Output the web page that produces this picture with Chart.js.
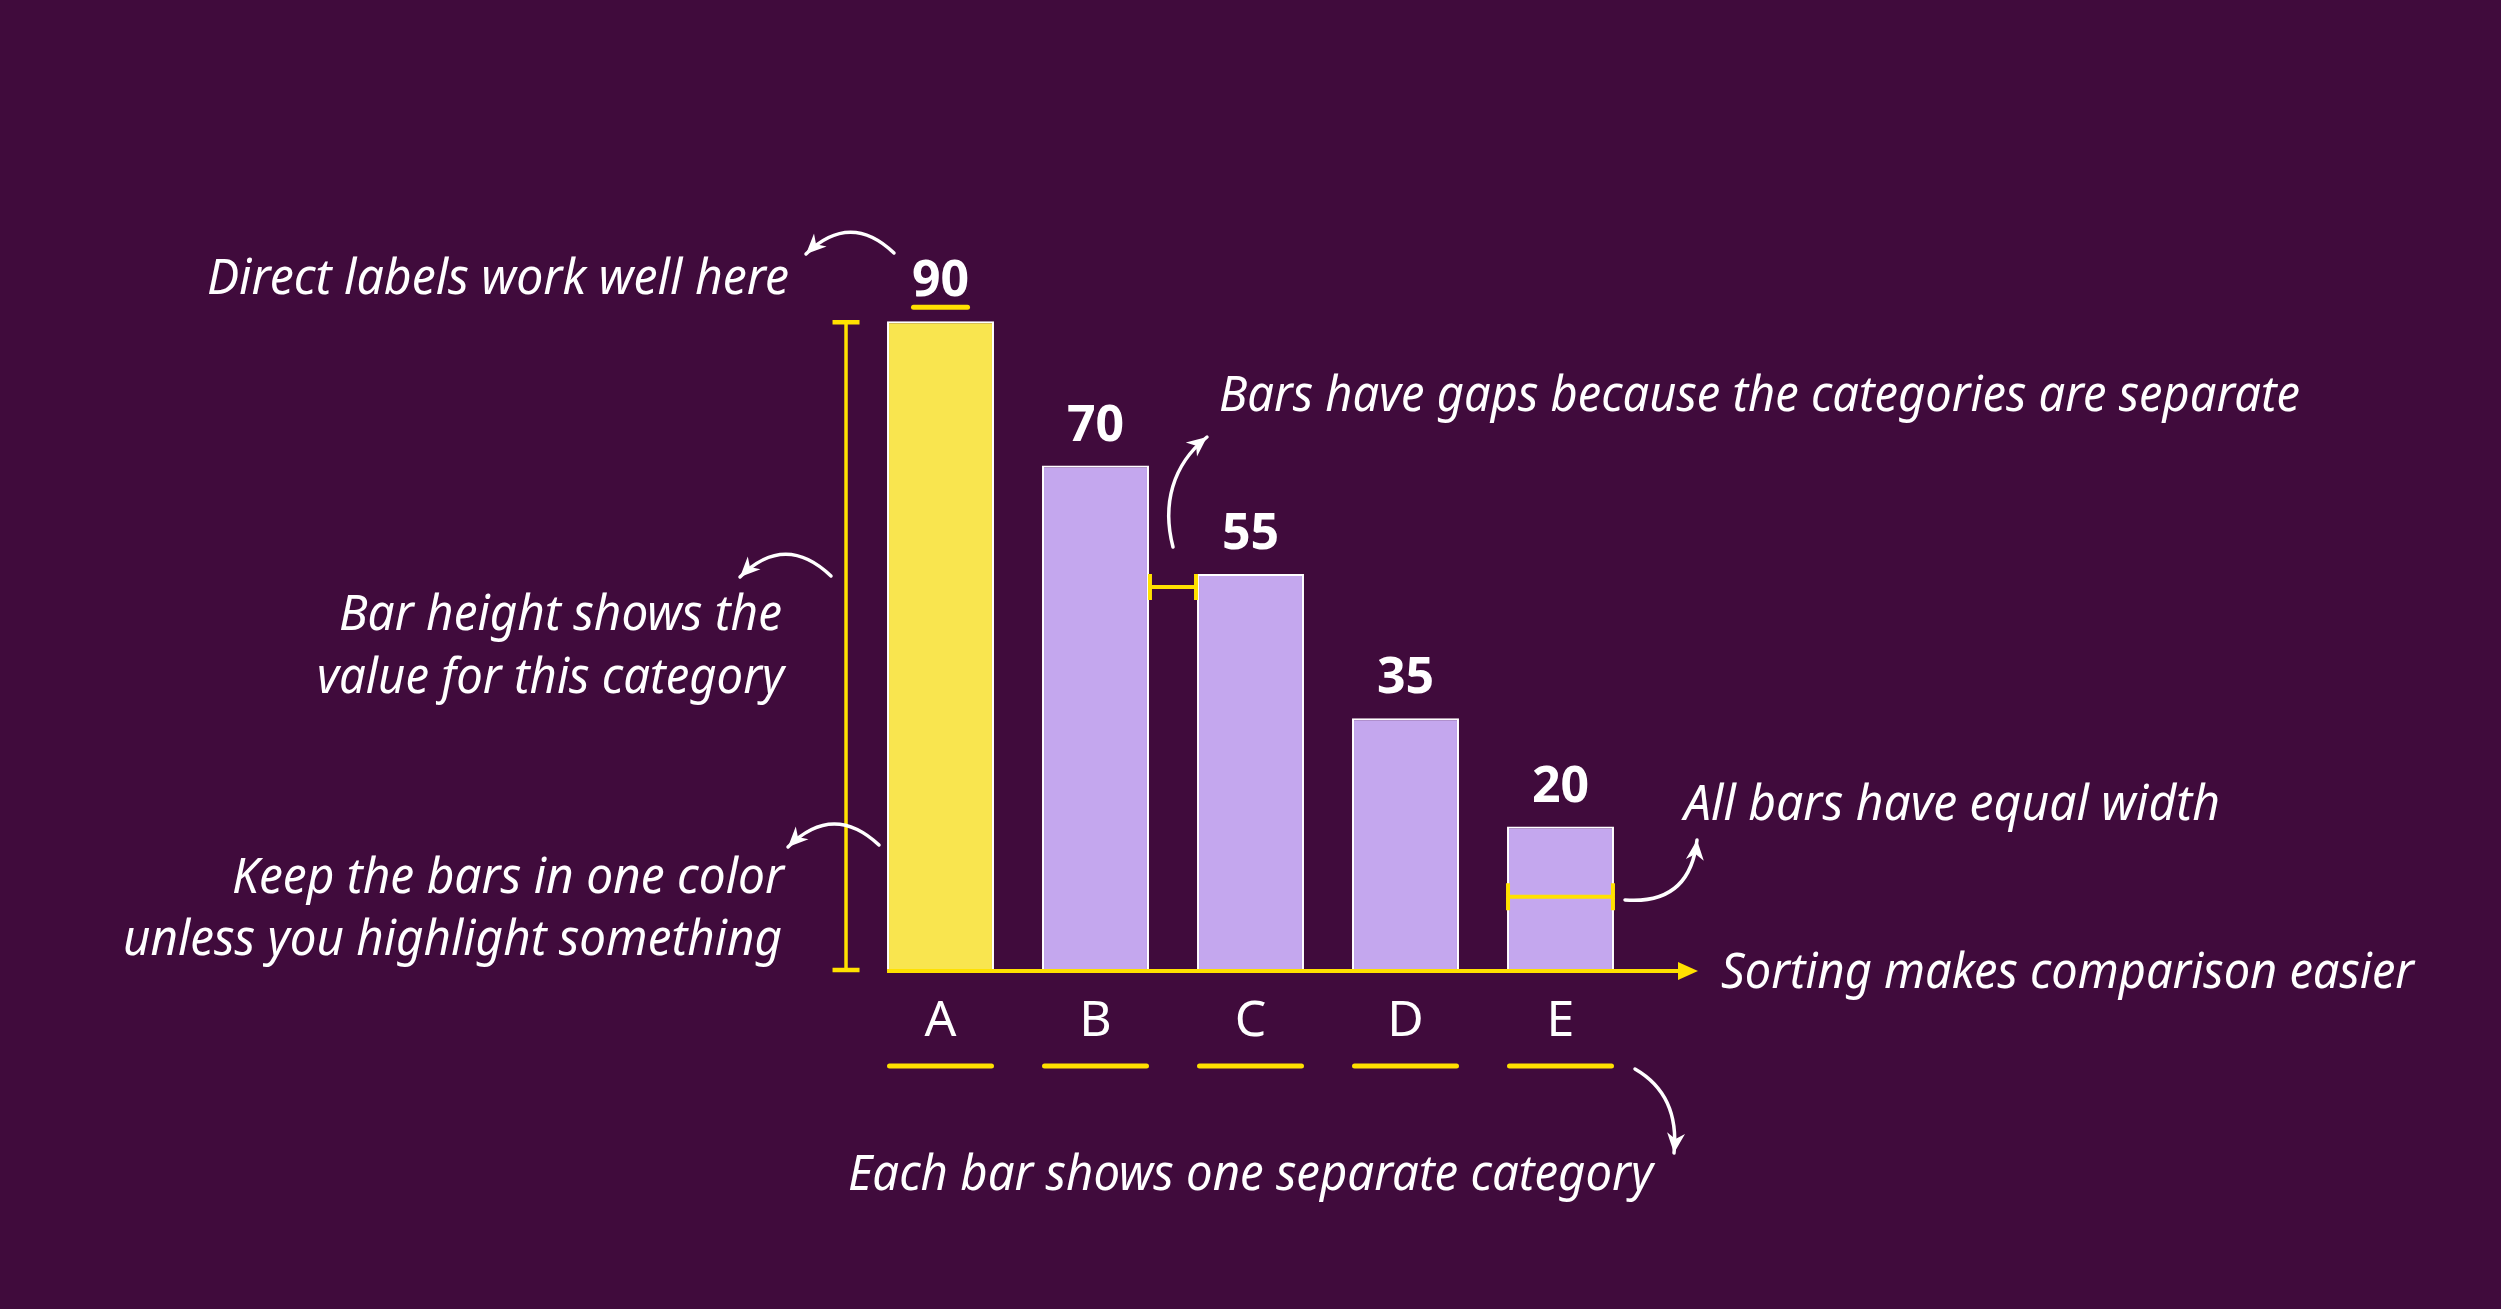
<!DOCTYPE html>
<html>
<head>
<meta charset="utf-8">
<script src="https://cdn.jsdelivr.net/npm/chart.js@4.4.1/dist/chart.umd.min.js"></script>
<style>
  html, body { margin: 0; padding: 0; background: #400b3c; overflow: hidden; }
  canvas { display: block; }
</style>
</head>
<body>
<canvas id="chart" width="2501" height="1309"></canvas>
<script>
// chart data
const categories = ['A', 'B', 'C', 'D', 'E'];
const values = [90, 70, 55, 35, 20];
const highlighted = 'A';

// annotation texts
const noteDirect = 'Direct labels work well here';
const noteHeight = ['Bar height shows the', 'value for this category'];
const noteColor = ['Keep the bars in one color', 'unless you highlight something'];
const noteGaps = 'Bars have gaps because the categories are separate';
const noteWidth = 'All bars have equal width';
const noteSort = 'Sorting makes comparison easier';
const noteCategory = 'Each bar shows one separate category';

const BG = '#400b3c';
const YELLOW_BAR = '#f9e54f';
const LAVENDER = '#c4a7ee';
const YELLOW = '#ffe100';
const FONT = '"Noto Sans", "Open Sans", sans-serif';

// draws text squeezed to a given width (reference font is narrower)
function fitText(ctx, text, x, y, width, align) {
  ctx.font = 'italic 400 50px ' + FONT;
  const w = ctx.measureText(text).width;
  let s = width / w;
  s = Math.max(0.7, Math.min(1.3, s));
  ctx.save();
  ctx.translate(x, y);
  ctx.scale(s, 1);
  ctx.textAlign = align;
  ctx.textBaseline = 'alphabetic';
  ctx.fillStyle = '#ffffff';
  ctx.fillText(text, 0, 0);
  ctx.restore();
}

function arrowHead(ctx, tx, ty, fromX, fromY) {
  const a = Math.atan2(ty - fromY, tx - fromX);
  const len = 20, hw = 9;
  ctx.beginPath();
  ctx.moveTo(tx, ty);
  ctx.lineTo(tx - len * Math.cos(a) + hw * Math.sin(a), ty - len * Math.sin(a) - hw * Math.cos(a));
  ctx.lineTo(tx - len * Math.cos(a) * 0.7, ty - len * Math.sin(a) * 0.7);
  ctx.lineTo(tx - len * Math.cos(a) - hw * Math.sin(a), ty - len * Math.sin(a) + hw * Math.cos(a));
  ctx.closePath();
  ctx.fill();
}

function quadArrow(ctx, x0, y0, cx, cy, x1, y1) {
  ctx.beginPath();
  ctx.moveTo(x0, y0);
  ctx.quadraticCurveTo(cx, cy, x1, y1);
  ctx.stroke();
  arrowHead(ctx, x1, y1, cx, cy);
}

function cubicArrow(ctx, x0, y0, c1x, c1y, c2x, c2y, x1, y1) {
  ctx.beginPath();
  ctx.moveTo(x0, y0);
  ctx.bezierCurveTo(c1x, c1y, c2x, c2y, x1, y1);
  ctx.stroke();
  arrowHead(ctx, x1, y1, c2x, c2y);
}

function bracketH(ctx, x0, x1, y, cap) {
  ctx.beginPath();
  ctx.moveTo(x0, y); ctx.lineTo(x1, y);
  ctx.moveTo(x0, y - cap); ctx.lineTo(x0, y + cap);
  ctx.moveTo(x1, y - cap); ctx.lineTo(x1, y + cap);
  ctx.stroke();
}

const annotate = {
  id: 'annotate',
  beforeDraw(chart) {
    const ctx = chart.ctx;
    ctx.save();
    ctx.fillStyle = BG;
    ctx.fillRect(0, 0, chart.width, chart.height);
    ctx.restore();
  },
  afterDatasetsDraw(chart) {
    const ctx = chart.ctx;
    const yScale = chart.scales.y;
    const bars = chart.getDatasetMeta(0).data;
    const half = bars[0].width / 2;
    const base = yScale.getPixelForValue(0);
    const last = bars[bars.length - 1];
    ctx.save();
    ctx.lineCap = 'butt';

    // x axis with arrow
    ctx.strokeStyle = YELLOW;
    ctx.fillStyle = YELLOW;
    ctx.lineWidth = 4;
    const axisStart = bars[0].x - half;
    const axisTip = last.x + half + 84;
    ctx.beginPath();
    ctx.moveTo(axisStart, base);
    ctx.lineTo(axisTip - 10, base);
    ctx.stroke();
    ctx.beginPath();
    ctx.moveTo(axisTip, base);
    ctx.lineTo(axisTip - 20, base - 9);
    ctx.lineTo(axisTip - 20, base + 9);
    ctx.closePath();
    ctx.fill();

    // value bracket for the tallest bar
    const vx = bars[0].x - half - 41;
    const vTop = yScale.getPixelForValue(values[0]);
    ctx.lineWidth = 3.5;
    ctx.beginPath();
    ctx.moveTo(vx, vTop); ctx.lineTo(vx, base);
    ctx.stroke();
    ctx.lineWidth = 4.5;
    ctx.beginPath();
    ctx.moveTo(vx - 13.5, vTop + 1); ctx.lineTo(vx + 13.5, vTop + 1);
    ctx.moveTo(vx - 13.5, base - 1); ctx.lineTo(vx + 13.5, base - 1);
    ctx.stroke();

    // gap bracket between B and C
    ctx.lineWidth = 4;
    bracketH(ctx, bars[1].x + half + 1, bars[2].x - half - 1, bars[2].y + 13, 13);

    // width bracket inside E
    bracketH(ctx, last.x - half + 1, last.x + half - 1, (last.y + base) / 2 - 2, 13.5);

    // category labels and underlines
    ctx.textAlign = 'center';
    ctx.textBaseline = 'alphabetic';
    ctx.fillStyle = '#ffffff';
    ctx.font = '400 50px ' + FONT;
    ctx.lineCap = 'round';
    ctx.lineWidth = 5;
    ctx.strokeStyle = YELLOW;
    bars.forEach((bar, i) => {
      ctx.fillText(categories[i], bar.x, base + 65);
      ctx.beginPath();
      ctx.moveTo(bar.x - half + 2.5, base + 95);
      ctx.lineTo(bar.x + half - 2.5, base + 95);
      ctx.stroke();
    });

    // value labels
    ctx.font = '700 50px ' + FONT;
    bars.forEach((bar, i) => {
      ctx.fillText(String(values[i]), bar.x, bar.y - 25);
    });
    ctx.beginPath();
    ctx.moveTo(bars[0].x - 27, bars[0].y - 14);
    ctx.lineTo(bars[0].x + 27, bars[0].y - 14);
    ctx.stroke();

    // notes
    fitText(ctx, noteDirect, 789, 294, 582, 'right');
    fitText(ctx, noteHeight[0], 782, 630, 443, 'right');
    fitText(ctx, noteHeight[1], 784, 693, 467, 'right');
    fitText(ctx, noteColor[0], 784, 893, 552, 'right');
    fitText(ctx, noteColor[1], 782, 955, 659, 'right');
    fitText(ctx, noteGaps, 1219, 411, 1081, 'left');
    fitText(ctx, noteWidth, 1684, 820, 536, 'left');
    fitText(ctx, noteSort, 1721, 988, 693, 'left');
    fitText(ctx, noteCategory, 848, 1190, 805, 'left');

    // arrows
    ctx.strokeStyle = '#ffffff';
    ctx.fillStyle = '#ffffff';
    ctx.lineWidth = 3.5;
    ctx.lineCap = 'round';
    quadArrow(ctx, 894, 253, 850, 211, 806, 254);
    quadArrow(ctx, 831, 576, 785, 532, 740, 577);
    quadArrow(ctx, 879, 845, 833, 802, 788, 847);
    cubicArrow(ctx, 1173, 547, 1162, 505, 1172, 465, 1207, 437);
    quadArrow(ctx, 1625, 900, 1690, 905, 1697, 840);
    quadArrow(ctx, 1635, 1069, 1680, 1095, 1674, 1153);

    ctx.restore();
  }
};

new Chart(document.getElementById('chart'), {
  type: 'bar',
  data: {
    labels: categories,
    datasets: [{
      data: values,
      backgroundColor: categories.map(c => c === highlighted ? YELLOW_BAR : LAVENDER),
      borderColor: '#ffffff',
      borderWidth: 2,
      categoryPercentage: 1,
      barPercentage: 0.69
    }]
  },
  options: {
    responsive: false,
    animation: false,
    devicePixelRatio: 1,
    layout: { padding: { left: 863, right: 863, top: 249, bottom: 338 } },
    plugins: { legend: { display: false }, tooltip: { enabled: false } },
    scales: {
      x: { display: false, grid: { display: false } },
      y: { display: false, min: 0, max: 100, grid: { display: false } }
    }
  },
  plugins: [annotate]
});
</script>
</body>
</html>
